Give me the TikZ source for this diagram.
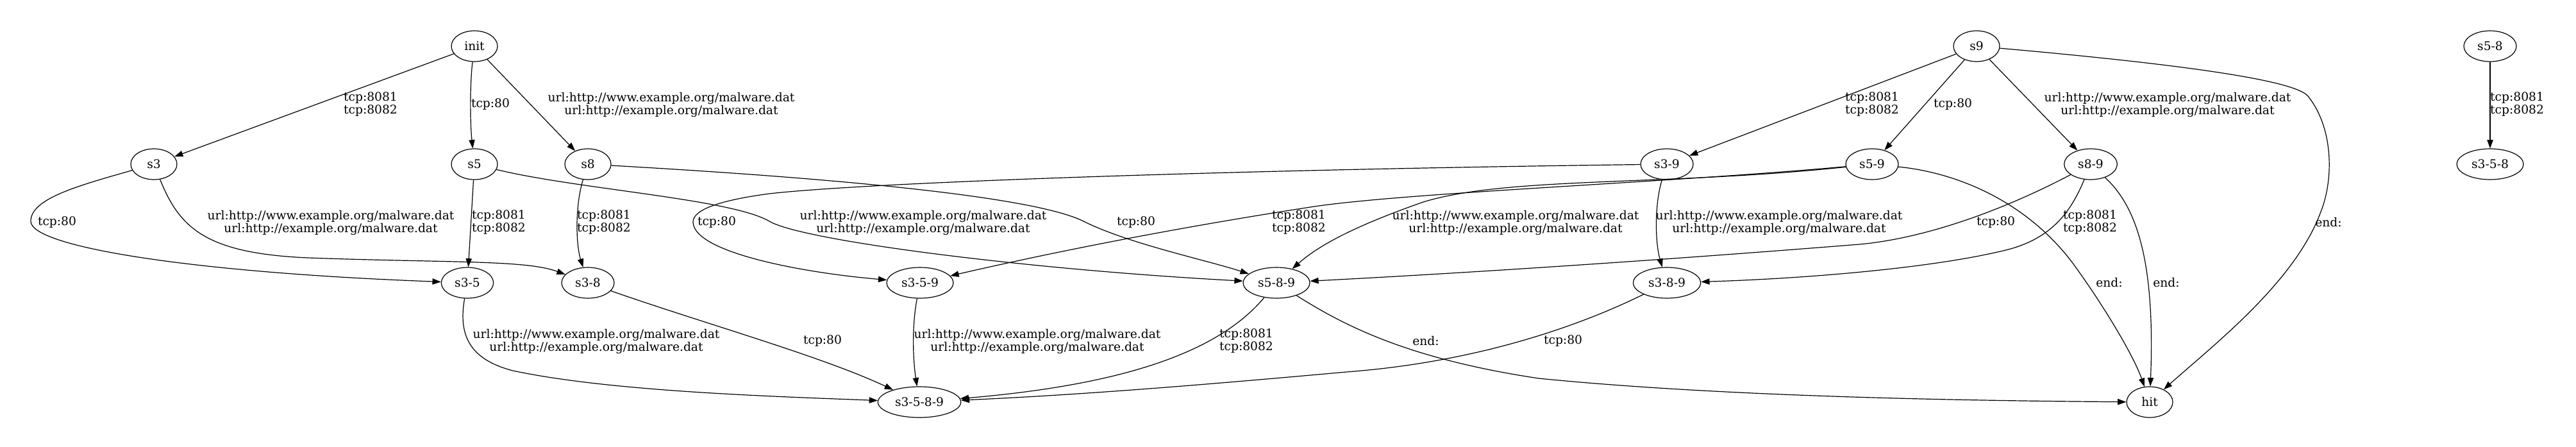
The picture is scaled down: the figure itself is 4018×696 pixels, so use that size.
\documentclass[tikz,border=0pt]{standalone}
\usepackage{fontspec}
\setmainfont{DejaVu Serif}
\usetikzlibrary{shapes.geometric,arrows.meta}
\begin{document}
\begin{tikzpicture}[x=0.75pt,y=-0.75pt,
  st/.style={ellipse,draw,line width=0.9pt,minimum height=36pt,minimum width=54pt,inner sep=0pt,font=\fontsize{14}{15}\selectfont},
  lbl/.style={align=center,inner sep=0pt,font=\fontsize{14}{15}\selectfont},
  edge/.style={draw,line width=0.9pt,-{Triangle[length=10pt,width=7pt]}}]
\useasboundingbox (0,0) rectangle (4018,696);
% states
\node[st] (init) at (740,72) {init};
\node[st] (s3) at (240,256) {s3};
\node[st] (s5) at (740,256) {s5};
\node[st] (s8) at (917,256) {s8};
\node[st,minimum width=61pt] (s35) at (729,441) {s3-5};
\node[st,minimum width=61.5pt] (s38) at (917,441) {s3-8};
\node[st,minimum width=78pt] (s359) at (1435,441) {s3-5-9};
\node[st,minimum width=78pt] (s589) at (1991,441) {s5-8-9};
\node[st,minimum width=97pt] (s3589) at (1434,627) {s3-5-8-9};
\node[st,minimum width=61.5pt] (s39) at (2600,256) {s3-9};
\node[st,minimum width=79pt] (s389) at (2600,441) {s3-8-9};
\node[st] (s9) at (3083,72) {s9};
\node[st,minimum width=61.5pt] (s59) at (2920,256) {s5-9};
\node[st,minimum width=62pt] (s89) at (3261,256) {s8-9};
\node[st] (hit) at (3353,627) {hit};
\node[st,minimum width=61.5pt] (s58) at (3884,72) {s5-8};
\node[st,minimum width=78pt] (s358) at (3884,256) {s3-5-8};
% transitions
\draw[edge] (init) -- (s3);
\draw[edge] (init) .. controls (733,130) and (733,190) .. (s5);
\draw[edge] (init) -- (s8);
\draw[edge] (s3) .. controls (120,290) and (48,310) .. (48,345) .. controls (48,385) and (300,425) .. (s35);
\draw[edge] (s3) .. controls (280,355) and (320,395) .. (480,402) .. controls (700,410) and (820,405) .. (s38);
\draw[edge] (s5) -- (s35);
\draw[edge] (s5) .. controls (900,295) and (1140,310) .. (1200,345) .. controls (1250,375) and (1600,420) .. (s589);
\draw[edge] (s8) .. controls (897,320) and (898,380) .. (s38);
\draw[edge] (s8) .. controls (1200,272) and (1600,300) .. (1690,345) .. controls (1760,380) and (1880,405) .. (s589);
\draw[edge] (s39) .. controls (1900,265) and (1350,285) .. (1200,302) .. controls (1080,318) and (1078,340) .. (1082,352) .. controls (1095,395) and (1250,425) .. (s359);
\draw[edge] (s39) .. controls (2580,320) and (2582,380) .. (s389);
\draw[edge] (s9) -- (s39);
\draw[edge] (s9) -- (s59);
\draw[edge] (s9) -- (s89);
\draw[edge] (s9) .. controls (3400,100) and (3580,125) .. (3600,150) .. controls (3640,200) and (3640,280) .. (3620,330) .. controls (3580,440) and (3450,540) .. (hit);
\draw[edge] (s59) .. controls (2600,285) and (2200,300) .. (2050,322) .. controls (1900,345) and (1700,380) .. (s359);
\draw[edge] (s59) .. controls (2600,290) and (2350,275) .. (2220,315) .. controls (2120,350) and (2060,380) .. (s589);
\draw[edge] (s59) .. controls (3060,270) and (3170,320) .. (3240,420) .. controls (3290,490) and (3330,560) .. (hit);
\draw[edge] (s89) .. controls (3120,330) and (3000,372) .. (2900,381) .. controls (2600,405) and (2300,425) .. (s589);
\draw[edge] (s89) .. controls (3230,330) and (3200,375) .. (3120,392) .. controls (3000,420) and (2800,435) .. (s389);
\draw[edge] (s89) .. controls (3330,320) and (3362,400) .. (hit);
\draw[edge] (s35) .. controls (715,520) and (730,560) .. (800,578) .. controls (950,610) and (1200,618) .. (s3589);
\draw[edge] (s38) .. controls (1100,505) and (1280,555) .. (s3589);
\draw[edge] (s359) .. controls (1422,510) and (1424,560) .. (s3589);
\draw[edge] (s589) .. controls (1900,550) and (1750,600) .. (s3589);
\draw[edge] (s589) .. controls (2100,510) and (2200,560) .. (2400,590) .. controls (2700,620) and (3100,625) .. (hit);
\draw[edge] (s389) .. controls (2460,510) and (2300,565) .. (2100,580) .. controls (1900,598) and (1700,615) .. (s3589);
\draw[edge] (s58) -- (s358);
% labels
\node[lbl] (l1) at (578,163) {tcp:8081\\tcp:8082};
\node[lbl] (l2) at (765,163) {tcp:80};
\node[lbl] (l3) at (1047,163) {url:http://www.example.org/malware.dat\\url:http://example.org/malware.dat};
\node[lbl] (l4) at (2920,163) {tcp:8081\\tcp:8082};
\node[lbl] (l5) at (3046,163) {tcp:80};
\node[lbl] (l6) at (3381,163) {url:http://www.example.org/malware.dat\\url:http://example.org/malware.dat};
\node[lbl] (l7) at (3926,163) {tcp:8081\\tcp:8082};
\node[lbl] (l8) at (89,347) {tcp:80};
\node[lbl] (l9) at (516,347) {url:http://www.example.org/malware.dat\\url:http://example.org/malware.dat};
\node[lbl] (l10) at (778,347) {tcp:8081\\tcp:8082};
\node[lbl] (l11) at (942,347) {tcp:8081\\tcp:8082};
\node[lbl] (l12) at (1118,347) {tcp:80};
\node[lbl] (l13) at (1440,347) {url:http://www.example.org/malware.dat\\url:http://example.org/malware.dat};
\node[lbl] (l14) at (1772,347) {tcp:80};
\node[lbl] (l15) at (2026,347) {tcp:8081\\tcp:8082};
\node[lbl] (l16) at (2364,347) {url:http://www.example.org/malware.dat\\url:http://example.org/malware.dat};
\node[lbl] (l17) at (2775,347) {url:http://www.example.org/malware.dat\\url:http://example.org/malware.dat};
\node[lbl] (l18) at (3113,347) {tcp:80};
\node[lbl] (l19) at (3260,347) {tcp:8081\\tcp:8082};
\node[lbl] (l20) at (3632,347) {end:};
\node[lbl] (l21) at (3290,441) {end:};
\node[lbl] (l22) at (3379,441) {end:};
\node[lbl] (l23) at (930,532) {url:http://www.example.org/malware.dat\\url:http://example.org/malware.dat};
\node[lbl] (l24) at (1283,532) {tcp:80};
\node[lbl] (l25) at (1618,532) {url:http://www.example.org/malware.dat\\url:http://example.org/malware.dat};
\node[lbl] (l26) at (1944,532) {tcp:8081\\tcp:8082};
\node[lbl] (l27) at (2224,532) {end:};
\node[lbl] (l28) at (2438,532) {tcp:80};
\end{tikzpicture}
\end{document}
